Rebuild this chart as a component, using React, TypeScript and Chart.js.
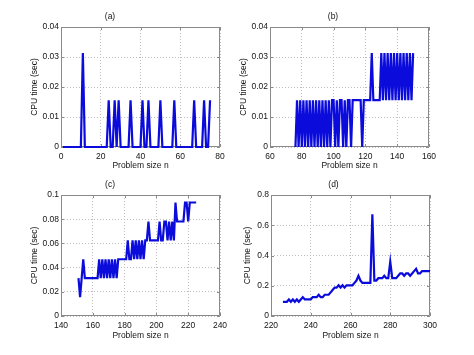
import { useEffect, useRef } from 'react';
import { Chart, registerables } from 'chart.js';

Chart.register(...registerables);

const FONT = "'Liberation Sans', Arial, Helvetica, sans-serif";
const TEXT = '#141414';
const FRAME = '#8a8a8a';
const GRID = '#bdbdbd';
const LINE = '#0b0bdc';

const xTitle = 'Problem size n';
const yTitle = 'CPU time (sec)';

// ---- panel (a)
const nA = [1, 2, 3, 4, 5, 6, 7, 8, 9, 10, 11, 12, 13, 14, 15, 16, 17, 18, 19, 20, 21, 22, 23, 24, 25, 26, 27, 28, 29, 30, 31, 32, 33, 34, 35, 36, 37, 38, 39, 40, 41, 42, 43, 44, 45, 46, 47, 48, 49, 50, 51, 52, 53, 54, 55, 56, 57, 58, 59, 60, 61, 62, 63, 64, 65, 66, 67, 68, 69, 70, 71, 72, 73, 74, 75];
const cpuA = [
  0, 0, 0, 0, 0, 0, 0, 0, 0, 0,
  0.0313, 0, 0, 0, 0, 0, 0, 0, 0, 0,
  0, 0, 0, 0.0156, 0, 0, 0.0156, 0, 0.0156, 0,
  0, 0, 0, 0, 0.0156, 0, 0, 0, 0, 0,
  0.0156, 0, 0, 0.0156, 0, 0, 0, 0, 0, 0.0156,
  0, 0, 0, 0, 0, 0, 0.0156, 0, 0, 0,
  0, 0, 0, 0, 0, 0, 0.0156, 0, 0, 0,
  0, 0.0156, 0, 0, 0.0156,
];

// ---- panel (b)
const nB = [76, 77, 78, 79, 80, 81, 82, 83, 84, 85, 86, 87, 88, 89, 90, 91, 92, 93, 94, 95, 96, 97, 98, 99, 100, 101, 102, 103, 104, 105, 106, 107, 108, 109, 110, 111, 112, 113, 114, 115, 116, 117, 118, 119, 120, 121, 122, 123, 124, 125, 126, 127, 128, 129, 130, 131, 132, 133, 134, 135, 136, 137, 138, 139, 140, 141, 142, 143, 144, 145, 146, 147, 148, 149, 150];
const cpuB = [
  0, 0.0156, 0, 0.0156, 0, 0.0156, 0, 0.0156, 0, 0.0156,
  0, 0.0156, 0, 0.0156, 0, 0.0156, 0, 0.0156, 0, 0.0156,
  0, 0.0156, 0, 0.0156, 0.0156, 0, 0.0156, 0, 0.0156, 0.0156,
  0, 0.0156, 0, 0.0156, 0.0156, 0, 0.0156, 0.0156, 0.0156, 0.0156,
  0.0156, 0.0156, 0, 0.0156, 0.0156, 0.0156, 0.0156, 0.0156, 0.0313, 0.0156,
  0.0156, 0.0156, 0.0156, 0.0156, 0.0313, 0.0156, 0.0313, 0.0156, 0.0313, 0.0156,
  0.0313, 0.0156, 0.0313, 0.0156, 0.0313, 0.0156, 0.0313, 0.0156, 0.0313, 0.0156,
  0.0313, 0.0156, 0.0313, 0.0156, 0.0313,
];

// ---- panel (c)
const nC = [151, 152, 153, 154, 155, 156, 157, 158, 159, 160, 161, 162, 163, 164, 165, 166, 167, 168, 169, 170, 171, 172, 173, 174, 175, 176, 177, 178, 179, 180, 181, 182, 183, 184, 185, 186, 187, 188, 189, 190, 191, 192, 193, 194, 195, 196, 197, 198, 199, 200, 201, 202, 203, 204, 205, 206, 207, 208, 209, 210, 211, 212, 213, 214, 215, 216, 217, 218, 219, 220, 221, 222, 223, 224, 225];
const cpuC = [
  0.0313, 0.0156, 0.0313, 0.0469, 0.0313, 0.0313, 0.0313, 0.0313, 0.0313, 0.0313,
  0.0313, 0.0313, 0.0313, 0.0469, 0.0313, 0.0469, 0.0313, 0.0469, 0.0313, 0.0469,
  0.0313, 0.0469, 0.0313, 0.0469, 0.0313, 0.0469, 0.0469, 0.0469, 0.0469, 0.0469,
  0.0469, 0.0625, 0.0469, 0.0469, 0.0625, 0.0469, 0.0625, 0.0469, 0.0625, 0.0469,
  0.0625, 0.0469, 0.0625, 0.0625, 0.0781, 0.0625, 0.0625, 0.0625, 0.0625, 0.0625,
  0.0625, 0.0781, 0.0625, 0.0625, 0.0781, 0.0781, 0.0625, 0.0781, 0.0625, 0.0781,
  0.0625, 0.0938, 0.0781, 0.0781, 0.0781, 0.0781, 0.0781, 0.0938, 0.0938, 0.0781,
  0.0938, 0.0938, 0.0938, 0.0938, 0.0938,
];

// ---- panel (d)
const nD = [226, 227, 228, 229, 230, 231, 232, 233, 234, 235, 236, 237, 238, 239, 240, 241, 242, 243, 244, 245, 246, 247, 248, 249, 250, 251, 252, 253, 254, 255, 256, 257, 258, 259, 260, 261, 262, 263, 264, 265, 266, 267, 268, 269, 270, 271, 272, 273, 274, 275, 276, 277, 278, 279, 280, 281, 282, 283, 284, 285, 286, 287, 288, 289, 290, 291, 292, 293, 294, 295, 296, 297, 298, 299, 300];
const cpuD = [
  0.0938, 0.0938, 0.0938, 0.1094, 0.0938, 0.1094, 0.0938, 0.1094, 0.0938, 0.1094,
  0.125, 0.1094, 0.1094, 0.1094, 0.1094, 0.125, 0.125, 0.125, 0.1406, 0.125,
  0.125, 0.1406, 0.1406, 0.1406, 0.1563, 0.1719, 0.1875, 0.1875, 0.2031, 0.1875,
  0.2031, 0.1875, 0.2031, 0.2031, 0.2031, 0.2031, 0.2188, 0.2344, 0.2656, 0.2344,
  0.2188, 0.2188, 0.2188, 0.2188, 0.2188, 0.6719, 0.2344, 0.2344, 0.25, 0.25,
  0.25, 0.2656, 0.25, 0.25, 0.3594, 0.25, 0.25, 0.25, 0.2656, 0.2813,
  0.2813, 0.2656, 0.2813, 0.2813, 0.2656, 0.2813, 0.2969, 0.3125, 0.2813, 0.2813,
  0.2969, 0.2969, 0.2969, 0.2969, 0.2969,
];

// ---- ticks
const xTicksA = [0, 20, 40, 60, 80];
const xLabelsA = ['0', '20', '40', '60', '80'];
const xTicksB = [60, 80, 100, 120, 140, 160];
const xLabelsB = ['60', '80', '100', '120', '140', '160'];
const xTicksC = [140, 160, 180, 200, 220, 240];
const xLabelsC = ['140', '160', '180', '200', '220', '240'];
const xTicksD = [220, 240, 260, 280, 300];
const xLabelsD = ['220', '240', '260', '280', '300'];
const yTicksAB = [0, 0.01, 0.02, 0.03, 0.04];
const yLabelsAB = ['0', '0.01', '0.02', '0.03', '0.04'];
const yTicksC = [0, 0.02, 0.04, 0.06, 0.08, 0.1];
const yLabelsC = ['0', '0.02', '0.04', '0.06', '0.08', '0.1'];
const yTicksD = [0, 0.2, 0.4, 0.6, 0.8];
const yLabelsD = ['0', '0.2', '0.4', '0.6', '0.8'];

type Geo = {
  left: number; top: number; w: number; h: number;
  yw: number; xh: number; padRight: number;
  titleTop: number; titleBottom: number; yTitlePad: number; xTitlePad: number;
};

const framePlugin = {
  id: 'matlabFrame',
  beforeDatasetsDraw(chart: any) {
    const { ctx, chartArea } = chart;
    const { left, right, top, bottom } = chartArea;
    const xs = chart.scales.x;
    const ys = chart.scales.y;
    ctx.save();
    ctx.strokeStyle = FRAME;
    ctx.lineWidth = 1;
    ctx.setLineDash([]);
    ctx.beginPath();
    ctx.rect(left + 0.5, top + 0.5, right - left - 1, bottom - top - 1);
    const tl = 3;
    xs.ticks.forEach((t: any) => {
      const p = Math.round(xs.getPixelForValue(t.value)) + 0.5;
      ctx.moveTo(p, bottom);
      ctx.lineTo(p, bottom - tl);
      ctx.moveTo(p, top);
      ctx.lineTo(p, top + tl);
    });
    ys.ticks.forEach((t: any) => {
      const p = Math.round(ys.getPixelForValue(t.value)) + 0.5;
      ctx.moveTo(left, p);
      ctx.lineTo(left + tl, p);
      ctx.moveTo(right, p);
      ctx.lineTo(right - tl, p);
    });
    ctx.stroke();
    ctx.restore();
  },
};

type PanelProps = {
  title: string; n: number[]; cpu: number[];
  xTicks: number[]; xLabels: string[]; yTicks: number[]; yLabels: string[]; geo: Geo;
};

function Panel({ title, n, cpu, xTicks, xLabels, yTicks, yLabels, geo }: PanelProps) {
  const ref = useRef<HTMLCanvasElement>(null);
  useEffect(() => {
    const canvas = ref.current;
    if (!canvas) return;
    const font = { family: FONT, size: 8.5, weight: 'normal' as const };
    const chart = new Chart(canvas, {
      type: 'line',
      data: {
        datasets: [{
          data: n.map((v, i) => ({ x: v, y: cpu[i] })),
          borderColor: LINE,
          borderWidth: 2.2,
          pointRadius: 0,
          tension: 0,
          fill: false,
          clip: false as any,
        }],
      },
      options: {
        animation: false,
        responsive: false,
        devicePixelRatio: 1,
        layout: { padding: { left: 0, top: 0, right: geo.padRight, bottom: 0 } },
        plugins: {
          legend: { display: false },
          tooltip: { enabled: false },
          title: {
            display: true, text: title, color: TEXT, font,
            padding: { top: geo.titleTop, bottom: geo.titleBottom },
          },
        },
        scales: {
          x: {
            type: 'linear',
            min: xTicks[0],
            max: xTicks[xTicks.length - 1],
            afterBuildTicks: (s: any) => { s.ticks = xTicks.map((v) => ({ value: v })); },
            afterFit: (s: any) => { s.height = geo.xh; },
            ticks: { callback: (_v: any, i: number) => xLabels[i], color: TEXT, font, padding: 4.5, maxRotation: 0, autoSkip: false },
            grid: { color: GRID, lineWidth: 1, drawTicks: false },
            border: { display: false, dash: [1, 2] },
            title: { display: true, text: xTitle, color: TEXT, font, padding: { top: 0, bottom: geo.xTitlePad } },
          },
          y: {
            type: 'linear',
            min: yTicks[0],
            max: yTicks[yTicks.length - 1],
            afterBuildTicks: (s: any) => { s.ticks = yTicks.map((v) => ({ value: v })); },
            afterFit: (s: any) => { s.width = geo.yw; },
            ticks: { callback: (_v: any, i: number) => yLabels[i], color: TEXT, font, padding: 2, autoSkip: false },
            grid: { color: GRID, lineWidth: 1, drawTicks: false },
            border: { display: false, dash: [1, 2] },
            title: { display: true, text: yTitle, color: TEXT, font, padding: { top: geo.yTitlePad, bottom: 0 } },
          },
        },
      },
      plugins: [framePlugin],
    } as any);
    return () => chart.destroy();
  }, []);
  return (
    <canvas
      ref={ref}
      width={geo.w}
      height={geo.h}
      style={{ position: 'absolute', left: geo.left, top: geo.top, width: geo.w, height: geo.h }}
    />
  );
}

const geoA: Geo = { left: 0, top: 0, w: 237, h: 178, yw: 61, xh: 31, padRight: 17, titleTop: 11.8, titleBottom: 5, yTitlePad: 30, xTitlePad: 7 };
const geoB: Geo = { left: 237, top: 0, w: 237, h: 178, yw: 33, xh: 31, padRight: 45, titleTop: 11.8, titleBottom: 5, yTitlePad: 1.6, xTitlePad: 7 };
const geoC: Geo = { left: 0, top: 178, w: 237, h: 177, yw: 61, xh: 39, padRight: 17, titleTop: 1.8, titleBottom: 5, yTitlePad: 29.2, xTitlePad: 14 };
const geoD: Geo = { left: 237, top: 178, w: 237, h: 177, yw: 34, xh: 39, padRight: 44, titleTop: 1.8, titleBottom: 5, yTitlePad: 5.6, xTitlePad: 14 };

export default function App() {
  return (
    <div style={{ position: 'fixed', left: 0, top: 0, width: 474, height: 355, background: '#ffffff', overflow: 'hidden' }}>
      <Panel title="(a)" n={nA} cpu={cpuA} xTicks={xTicksA} xLabels={xLabelsA} yTicks={yTicksAB} yLabels={yLabelsAB} geo={geoA} />
      <Panel title="(b)" n={nB} cpu={cpuB} xTicks={xTicksB} xLabels={xLabelsB} yTicks={yTicksAB} yLabels={yLabelsAB} geo={geoB} />
      <Panel title="(c)" n={nC} cpu={cpuC} xTicks={xTicksC} xLabels={xLabelsC} yTicks={yTicksC} yLabels={yLabelsC} geo={geoC} />
      <Panel title="(d)" n={nD} cpu={cpuD} xTicks={xTicksD} xLabels={xLabelsD} yTicks={yTicksD} yLabels={yLabelsD} geo={geoD} />
    </div>
  );
}
